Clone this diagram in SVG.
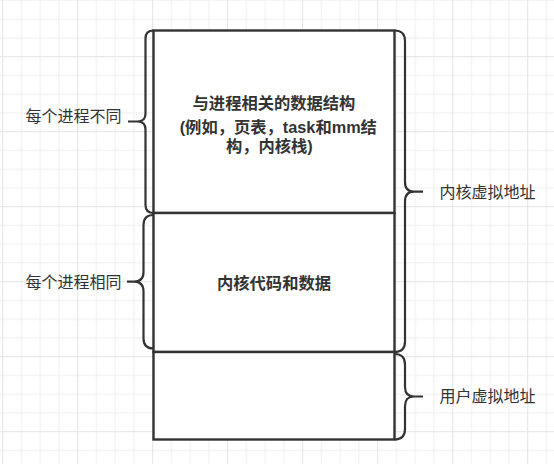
<svg xmlns="http://www.w3.org/2000/svg" width="554" height="464" viewBox="0 0 554 464">
  <defs>
    <pattern id="grid" width="75" height="75" patternUnits="userSpaceOnUse" x="2.2" y="-18.8">
      <rect width="75" height="75" fill="#ffffff"/>
      <g fill="#f0f0f0">
        <rect x="18.75" y="0" width="1" height="75"/>
        <rect x="37.5" y="0" width="1" height="75"/>
        <rect x="56.25" y="0" width="1" height="75"/>
        <rect x="0" y="18.75" width="75" height="1"/>
        <rect x="0" y="37.5" width="75" height="1"/>
        <rect x="0" y="56.25" width="75" height="1"/>
      </g>
      <g fill="#e4e4e4">
        <rect x="0" y="0" width="1" height="75"/>
        <rect x="0" y="0" width="75" height="1"/>
      </g>
    </pattern>
  </defs>
  <style>
    .box { fill: #ffffff; stroke: #333333; stroke-width: 2.4; }
    .brace { fill: none; stroke: #333333; stroke-width: 2.2; stroke-linejoin: round; stroke-linecap: butt; }
    .bold { font-family: "Liberation Sans", "Noto Sans CJK SC", sans-serif; font-size: 16.3px; font-weight: bold; fill: #333333; text-anchor: middle; }
    .lbl { font-family: "Noto Sans CJK SC", "Liberation Sans", sans-serif; font-size: 16px; fill: #333333; }
  </style>
  <rect width="554" height="464" fill="url(#grid)"/>

  <g id="box-process-data">
    <rect class="box" x="153.5" y="30.5" width="241" height="182.5"/>
    <text class="bold"><tspan x="274" y="109">与进程相关的数据结构</tspan><tspan x="278.3" y="132.5">(例如，页表，task和mm结</tspan><tspan x="269.3" y="151.8">构，内核栈)</tspan></text>
  </g>
  <g id="box-kernel-code">
    <rect class="box" x="153.5" y="213" width="241" height="139"/>
    <text class="bold" x="274" y="289">内核代码和数据</text>
  </g>
  <g id="box-user">
    <rect class="box" x="153.5" y="352" width="241" height="87.5"/>
  </g>

  <g id="connectors">
    <path class="brace" d="M153.5,30.5 Q145.5,30.5 145.5,38.5 V113.5 Q145.5,121.5 137.5,121.5 H128 M137.5,121.5 Q145.5,121.5 145.5,129.5 V205 Q145.5,213 153.5,213"/>
    <path class="brace" d="M153.5,215 Q143.5,215 143.5,225 V272 Q143.5,281.7 134,281.7 H127 M134,281.7 Q143.5,281.7 143.5,291.5 V338.5 Q143.5,348.5 153.5,348.5"/>
    <path class="brace" d="M394.5,30.5 Q405,30.5 405,41 V182 Q405,191.7 414,191.7 H423 M414,191.7 Q405,191.7 405,201.5 V341.5 Q405,352 394.5,352"/>
    <path class="brace" d="M394.5,354 Q405,354 405,364.5 V387 Q405,396.5 414,396.5 H423 M414,396.5 Q405,396.5 405,406 V429 Q405,439.5 394.5,439.5"/>
  </g>

  <g id="label-different">
    <text class="lbl" x="25.5" y="122.3">每个进程不同</text>
  </g>
  <g id="label-same">
    <text class="lbl" x="25.5" y="288">每个进程相同</text>
  </g>
  <g id="label-kernel-va">
    <text class="lbl" x="439.5" y="198.3">内核虚拟地址</text>
  </g>
  <g id="label-user-va">
    <text class="lbl" x="439.5" y="401.7">用户虚拟地址</text>
  </g>
</svg>
